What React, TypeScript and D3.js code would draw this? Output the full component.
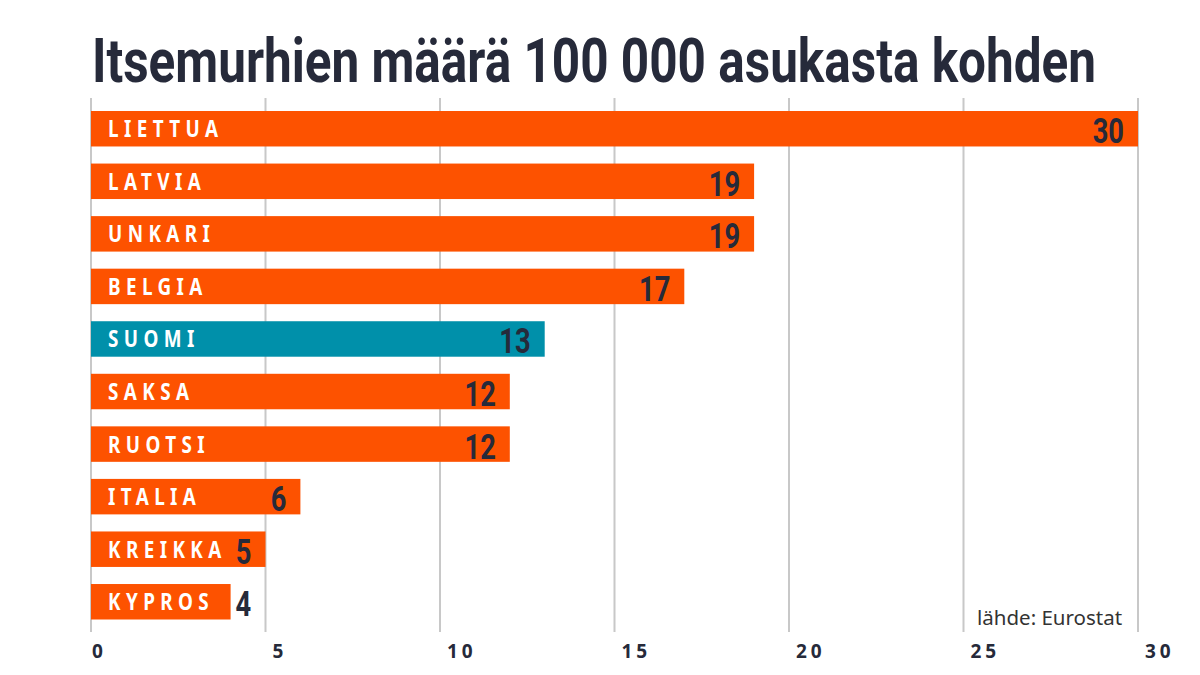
import * as d3 from 'd3';

const countries = ['LIETTUA', 'LATVIA', 'UNKARI', 'BELGIA', 'SUOMI', 'SAKSA', 'RUOTSI', 'ITALIA', 'KREIKKA', 'KYPROS'];
const rates = [30, 19, 19, 17, 13, 12, 12, 6, 5, 4];
const ticks = [0, 5, 10, 15, 20, 25, 30];
const highlight = 'SUOMI';

const W = 1200;
const H = 675;
const dark = '#262a3a';
const orange = '#fd5200';
const teal = '#0090aa';
const sans = "'Roboto', 'Noto Sans', sans-serif";

const App = () => {
    const x = d3.scaleLinear().domain([0, 30]).range([91, 1138]);
    const y = d3.scaleBand<string>()
        .domain(countries)
        .range([111, 619.5])
        .paddingInner(0.325)
        .paddingOuter(0);
    const bh = y.bandwidth();

    // rough width of a spaced-out category label, to decide where the value goes
    const labelWidth = (s: string) => s.length * 16.5;

    return (
        <svg width={W} height={H} style={{ position: 'absolute', left: 0, top: 0, background: '#fff' }}>
            <text x={92} y={82} fontFamily={sans} fontWeight={700} fontSize={62}
                textLength={1004} lengthAdjust="spacingAndGlyphs" fill={dark}>
                Itsemurhien määrä 100 000 asukasta kohden
            </text>

            {/* gridlines */}
            {ticks.map(t => (
                <line key={t} x1={x(t)} x2={x(t)} y1={98} y2={632} stroke="#c8c8c8" strokeWidth={2} />
            ))}

            {countries.map((c, i) => {
                const v = rates[i];
                const y0 = y(c) || 0;
                const mid = y0 + bh / 2;
                const bw = x(v) - x(0);
                const inside = bw > labelWidth(c) + 45;
                const vx = inside ? x(v) - 14 : x(v) + 5;
                return (
                    <g key={c}>
                        <rect x={x(0)} y={y0} width={bw} height={bh}
                            fill={c === highlight ? teal : orange} />
                        <g transform={`translate(108,${mid + 8.5}) scale(0.82,1)`}>
                            <text x={0} y={0} fill="#fff"
                                fontFamily="'Noto Sans', sans-serif" fontWeight={700} fontSize={23}
                                letterSpacing={6.6}>{c}</text>
                        </g>
                        <g transform={`translate(${vx},${mid + 14.5}) scale(0.78,1)`}>
                            <text x={0} y={0} textAnchor={inside ? 'end' : 'start'} fill={dark}
                                fontFamily={sans} fontWeight={700} fontSize={35}>{v}</text>
                        </g>
                    </g>
                );
            })}

            {/* source */}
            <rect x={970} y={600} width={160} height={32} fill="#fff" />
            <text x={977} y={625} fill="#333" fontFamily="'Noto Sans', sans-serif" fontSize={20.5}>
                lähde: Eurostat
            </text>

            {/* tick labels */}
            {ticks.map(t => (
                <text key={t} x={x(t) + (t === 0 ? 1 : 7)} y={658} fill={dark}
                    fontFamily="'Noto Sans', sans-serif" fontWeight={700} fontSize={19}
                    letterSpacing={4}>{t}</text>
            ))}
        </svg>
    );
};

export default App;
